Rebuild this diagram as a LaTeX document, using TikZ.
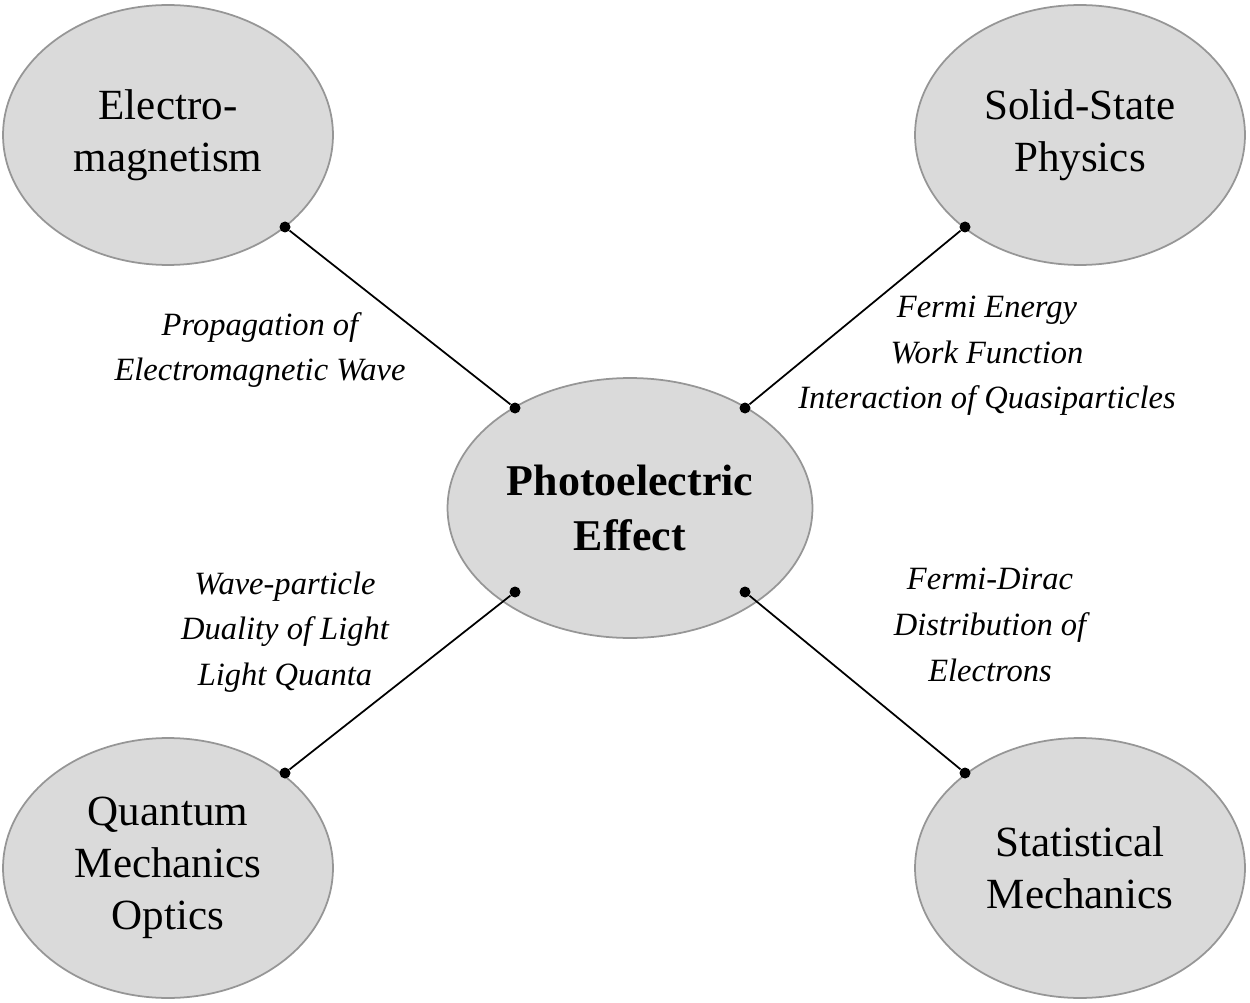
\documentclass[tikz,border=0pt]{standalone}
\usepackage{fontspec}
\setmainfont{Liberation Serif}
\usetikzlibrary{shapes.geometric}
\definecolor{fillg}{RGB}{218,218,218}
\definecolor{edgeg}{RGB}{150,150,150}
\tikzset{
 blob/.style={ellipse,draw=edgeg,line width=1pt,fill=fillg,minimum width=6.6cm,minimum height=5.2cm,align=center,font=\fontsize{24.5}{29.5}\selectfont},
 lab/.style={align=center,font=\itshape\fontsize{18.5}{26}\selectfont},
 dotp/.style={circle,fill=black,inner sep=0pt,minimum size=0.22cm},
 link/.style={line width=1pt}
}
\begin{document}
\begin{tikzpicture}[x=0.02cm,y=-0.02cm]
\useasboundingbox (0,0) rectangle (1250,1003);
\node[blob] (em) at (168,135) {Electro-\\magnetism};
\node[blob] (ss) at (1080,135) {Solid-State\\Physics};
\node[blob] (qm) at (168,868) {Quantum\\Mechanics\\Optics};
\node[blob] (sm) at (1080,868) {Statistical\\Mechanics};
\node[blob,minimum width=6.7cm,font=\bfseries\fontsize{25}{31}\selectfont] (pe) at (630,508) {Photoelectric\\Effect};
\node[dotp] (d1) at (285,227) {}; \node[dotp] (d2) at (515,408) {};
\node[dotp] (d3) at (965,227) {}; \node[dotp] (d4) at (745,408) {};
\node[dotp] (d5) at (515,592) {}; \node[dotp] (d6) at (285,773) {};
\node[dotp] (d7) at (745,592) {}; \node[dotp] (d8) at (965,773) {};
\draw[link] (d1)--(d2); \draw[link] (d3)--(d4); \draw[link] (d5)--(d6); \draw[link] (d7)--(d8);
\node[lab] (l1) at (260,350) {Propagation of\\Electromagnetic Wave};
\node[lab] (l2) at (987,356) {Fermi Energy\\Work Function\\Interaction of Quasiparticles};
\node[lab] (l3) at (285,632) {Wave-particle\\Duality of Light\\Light Quanta};
\node[lab] (l4) at (990,625) {Fermi-Dirac\\Distribution of\\Electrons};
\end{tikzpicture}
\end{document}
